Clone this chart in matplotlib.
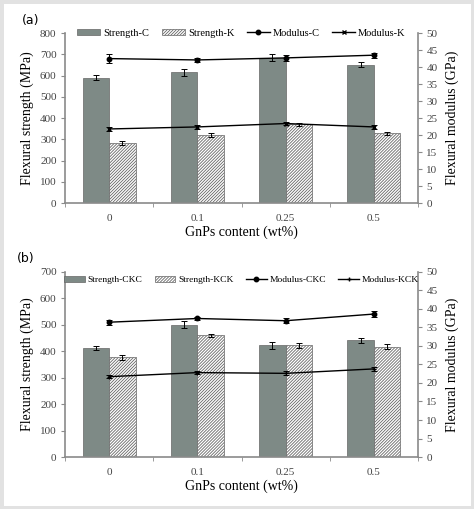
import numpy as np
import matplotlib.pyplot as plt
from matplotlib.patches import Rectangle
from matplotlib.lines import Line2D

plt.rcParams['font.family'] = ['Liberation Serif', 'DejaVu Serif']
plt.rcParams['hatch.linewidth'] = 0.6
plt.rcParams['hatch.color'] = '#7a7a7a'

categories = ['0', '0.1', '0.25', '0.5']

# panel (a)
strength_c = [590, 615, 685, 652]
strength_c_err = [12, 15, 15, 10]
strength_k = [283, 320, 370, 328]
strength_k_err = [10, 8, 8, 8]
modulus_c = [42.5, 42.1, 42.7, 43.5]
modulus_c_err = [1.3, 0.7, 0.8, 0.7]
modulus_k = [21.8, 22.4, 23.4, 22.4]
modulus_k_err = [0.5, 0.5, 0.4, 0.7]

# panel (b)
strength_ckc = [413, 500, 422, 441]
strength_ckc_err = [8, 14, 14, 10]
strength_kck = [377, 460, 423, 417]
strength_kck_err = [10, 6, 9, 9]
modulus_ckc = [36.4, 37.4, 36.8, 38.6]
modulus_ckc_err = [0.7, 0.4, 0.6, 0.8]
modulus_kck = [21.7, 22.8, 22.6, 23.8]
modulus_kck_err = [0.4, 0.5, 0.5, 0.6]

BAR_COLOR = '#7e8a86'
AXIS_COLOR = '#8a8a8a'
TICK_TEXT = '#444444'


def draw_panel(ax, s1, s1e, s2, s2e, m1, m1e, m2, m2e, labels, ymax, m2_marker,
               legend_y, legend_size, legend_gap):
    x = np.arange(len(categories))
    w = 0.3
    b1 = ax.bar(x - w / 2, s1, w, color=BAR_COLOR, edgecolor='#666666', linewidth=0.5,
                label=labels[0], zorder=2)
    b2 = ax.bar(x + w / 2, s2, w, color='white', edgecolor='#666666', hatch='/' * 11,
                linewidth=0.5, label=labels[1], zorder=2)
    ax.errorbar(x - w / 2, s1, yerr=s1e, fmt='none', ecolor='black', elinewidth=0.7,
                capsize=2, capthick=0.7, zorder=3)
    ax.errorbar(x + w / 2, s2, yerr=s2e, fmt='none', ecolor='black', elinewidth=0.7,
                capsize=2, capthick=0.7, zorder=3)
    ax.set_xlim(-0.5, len(categories) - 0.5)
    ax.set_ylim(0, ymax)
    ax.set_yticks(np.arange(0, ymax + 1, 100))
    ax.set_xticks(x)
    ax.set_xticklabels(categories)
    ax.set_xticks(np.arange(-0.5, len(categories)), minor=True)
    ax.tick_params(axis='x', which='major', length=0, pad=8, labelsize=8, labelcolor=TICK_TEXT)
    ax.tick_params(axis='x', which='minor', length=3, color=AXIS_COLOR, direction='out')
    ax.tick_params(axis='y', length=3, color=AXIS_COLOR, labelsize=8, pad=3, labelcolor=TICK_TEXT)
    ax.set_ylabel('Flexural strength (MPa)', fontsize=10)
    ax.set_xlabel('GnPs content (wt%)', fontsize=10, labelpad=2)
    for side in ['left', 'bottom']:
        ax.spines[side].set_color(AXIS_COLOR)
        ax.spines[side].set_linewidth(1.2)
    ax.spines['top'].set_visible(False)
    ax.spines['right'].set_visible(False)

    ax2 = ax.twinx()
    ax2.errorbar(x, m1, yerr=m1e, color='black', marker='o', markersize=3.2, linewidth=1,
                 elinewidth=0.7, capsize=2, capthick=0.7, zorder=4)
    ax2.errorbar(x, m2, yerr=m2e, color='black', marker=m2_marker, markersize=3.5, linewidth=1,
                 elinewidth=0.7, capsize=2, capthick=0.7, zorder=4)
    ax2.set_ylim(0, 50)
    ax2.set_yticks(np.arange(0, 51, 5))
    ax2.tick_params(axis='y', length=3, color=AXIS_COLOR, labelsize=8, pad=3, labelcolor=TICK_TEXT)
    ax2.set_ylabel('Flexural modulus (GPa)', fontsize=10, labelpad=6)
    ax2.spines['right'].set_color(AXIS_COLOR)
    ax2.spines['right'].set_linewidth(1.2)
    for side in ['top', 'left', 'bottom']:
        ax2.spines[side].set_visible(False)

    l1 = Line2D([], [], color='black', marker='o', markersize=3.2, linewidth=1)
    l2 = Line2D([], [], color='black', marker=m2_marker, markersize=3.5, linewidth=1)
    ax2.legend([b1, b2, l1, l2], labels, loc='center', bbox_to_anchor=(0.5, legend_y), ncol=4,
               frameon=False, fontsize=legend_size, handlelength=2.2, columnspacing=legend_gap,
               handletextpad=0.3, handleheight=0.5, borderaxespad=0, borderpad=0)


fig = plt.figure(figsize=(4.74, 5.09), dpi=100)
ax_a = fig.add_axes([0.137, 0.601, 0.745, 0.334])
ax_b = fig.add_axes([0.137, 0.102, 0.745, 0.364])

draw_panel(ax_a, strength_c, strength_c_err, strength_k, strength_k_err,
           modulus_c, modulus_c_err, modulus_k, modulus_k_err,
           ['Strength-C', 'Strength-K', 'Modulus-C', 'Modulus-K'], 800, 'x', 1.0, 7.5, 1.2)
draw_panel(ax_b, strength_ckc, strength_ckc_err, strength_kck, strength_kck_err,
           modulus_ckc, modulus_ckc_err, modulus_kck, modulus_kck_err,
           ['Strength-CKC', 'Strength-KCK', 'Modulus-CKC', 'Modulus-KCK'], 700, '+', 0.955, 6.8, 1.3)

fig.text(0.047, 0.96, '(a)', fontsize=9, family='DejaVu Sans', va='center')
fig.text(0.035, 0.493, '(b)', fontsize=9, family='DejaVu Sans', va='center')

fig.patches.append(Rectangle((0, 0), 1, 1, transform=fig.transFigure, fill=False,
                             edgecolor='#e2e2e2', linewidth=5))

fig.savefig('out.png', dpi=100)
